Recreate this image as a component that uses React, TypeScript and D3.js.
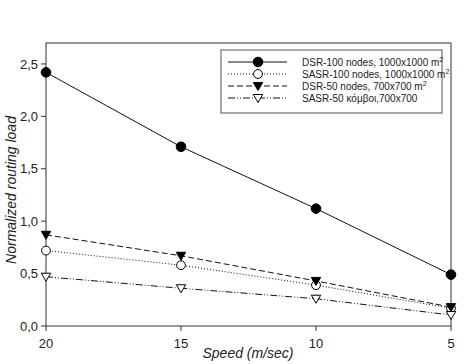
import React from "react";
import * as d3 from "d3";

const speeds = [20, 15, 10, 5];
const dsr100 = [2.42, 1.71, 1.12, 0.49];
const sasr100 = [0.72, 0.58, 0.39, 0.17];
const dsr50 = [0.87, 0.67, 0.43, 0.18];
const sasr50 = [0.47, 0.36, 0.26, 0.105];
const yTicks = [0, 0.5, 1.0, 1.5, 2.0, 2.5];
const xTicks = [20, 15, 10, 5];

type Series = { name: string; sup?: boolean; values: number[]; dash: string; marker: string };
const seriesList: Series[] = [
  { name: "DSR-100 nodes, 1000x1000 m", sup: true, values: dsr100, dash: "", marker: "filledCircle" },
  { name: "SASR-100 nodes, 1000x1000 m", sup: true, values: sasr100, dash: "1,2", marker: "openCircle" },
  { name: "DSR-50 nodes, 700x700 m", sup: true, values: dsr50, dash: "6,3", marker: "filledTri" },
  { name: "SASR-50 κόμβοι,700x700", values: sasr50, dash: "7,2,1,2,1,2", marker: "openTri" },
];

const W = 474, H = 364;
const left = 46, right = 451, top = 43, bottom = 326;

function Marker({ kind, x, y }: { kind: string; x: number; y: number }) {
  if (kind === "filledCircle") return <circle cx={x} cy={y} r={4.8} fill="#000" stroke="#000" />;
  if (kind === "openCircle") return <circle cx={x} cy={y} r={4.4} fill="#fff" stroke="#000" strokeWidth={1} />;
  const s = 4.7;
  const pts = `${x - s},${y - s * 0.75} ${x + s},${y - s * 0.75} ${x},${y + s * 0.95}`;
  if (kind === "filledTri") return <polygon points={pts} fill="#000" stroke="#000" strokeWidth={1} />;
  return <polygon points={pts} fill="#fff" stroke="#000" strokeWidth={1} />;
}

export default function App() {
  const x = d3.scaleLinear().domain([20, 5]).range([left, right]);
  const y = d3.scaleLinear().domain([0, 2.7]).range([bottom, top]);
  const line = d3
    .line<number>()
    .x((_, i) => x(speeds[i]))
    .y((d) => y(d));
  const font = "Arial, 'Liberation Sans', sans-serif";
  const legX = 221, legY = 50, legW = 221, legH = 63;
  const rowY = [62, 74, 86, 98];
  return (
    <svg width={W} height={H} style={{ position: "absolute", left: 0, top: 0, background: "#fff" }} fontFamily={font}>
      <rect x={0} y={0} width={W} height={H} fill="#fff" />
      <rect x={left} y={top} width={right - left} height={bottom - top} fill="none" stroke="#333" strokeWidth={1} />
      {yTicks.map((t) => (
        <g key={t}>
          <line x1={left - 5} x2={left} y1={y(t)} y2={y(t)} stroke="#333" />
          <text x={left - 8} y={y(t)} dy="0.35em" textAnchor="end" fontSize={13} fill="#222">
            {d3.format(".1f")(t).replace(".", ",")}
          </text>
        </g>
      ))}
      {xTicks.map((t) => (
        <g key={t}>
          <line x1={x(t)} x2={x(t)} y1={bottom} y2={bottom + 5} stroke="#333" />
          <text x={x(t)} y={bottom + 17} dy="0.35em" textAnchor="middle" fontSize={13} fill="#222">
            {t}
          </text>
        </g>
      ))}
      <text x={248} y={353} dy="0.35em" textAnchor="middle" fontSize={14} fontStyle="italic" fill="#222">
        Speed (m/sec)
      </text>
      <text
        transform={`translate(11,190) rotate(-90)`}
        dy="0.35em"
        textAnchor="middle"
        fontSize={14}
        fontStyle="italic"
        fill="#222"
      >
        Normalized routing load
      </text>
      {seriesList.map((s) => (
        <g key={s.name}>
          <path d={line(s.values) || ""} fill="none" stroke="#111" strokeWidth={1} strokeDasharray={s.dash} />
          {s.values.map((v, i) => (
            <Marker key={i} kind={s.marker} x={x(speeds[i])} y={y(v)} />
          ))}
        </g>
      ))}
      <rect x={legX} y={legY} width={legW} height={legH} fill="#fff" stroke="#555" strokeWidth={1} />
      {seriesList.map((s, i) => (
        <g key={s.name}>
          <line x1={228} x2={287} y1={rowY[i]} y2={rowY[i]} stroke="#111" strokeDasharray={s.dash} />
          <Marker kind={s.marker} x={258} y={rowY[i]} />
          <text x={302} y={rowY[i]} dy="0.35em" fontSize={10} fill="#222">
            {s.name}
            {s.sup ? <tspan dy={-4} fontSize={7}>2</tspan> : null}
          </text>
        </g>
      ))}
    </svg>
  );
}
